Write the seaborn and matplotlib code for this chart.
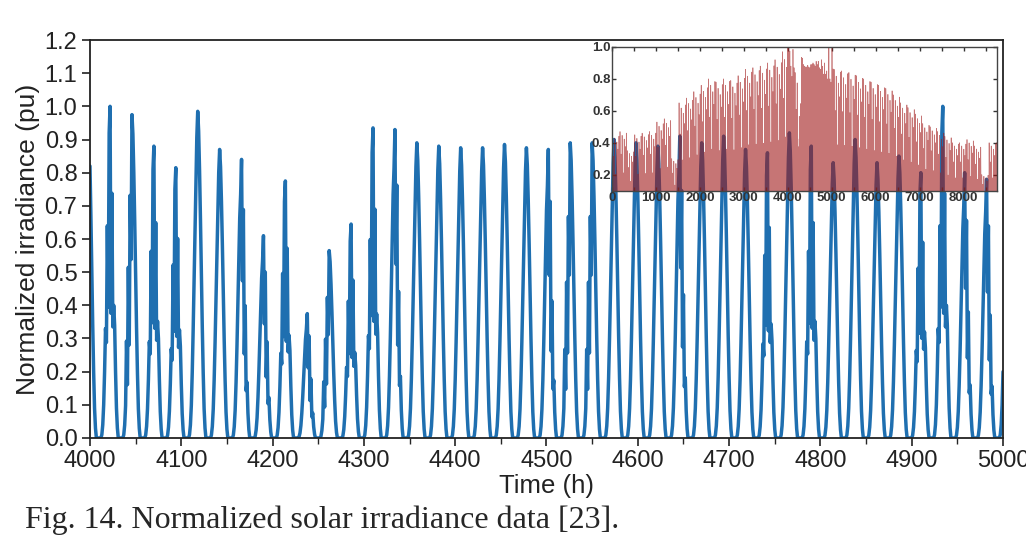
import numpy as np
import pandas as pd
import matplotlib
matplotlib.use('Agg')
import matplotlib.pyplot as plt
import seaborn as sns
from matplotlib.ticker import MultipleLocator

sns.set_theme(style='ticks')
plt.rcParams['font.family'] = ['Liberation Sans', 'DejaVu Sans']

# hourly shape of a clear day (hour 0..23), peak at hour 14
clear_profile = [0, 0, 0, 0, 0, 0.01, 0.04, 0.1, 0.2, 0.33, 0.48, 0.64,
                 0.79, 0.92, 1.0, 0.94, 0.82, 0.67, 0.5, 0.34, 0.2, 0.09, 0.03, 0]

# cloud flicker multipliers (hour 0..23)
cloud_afternoon = [1, 1, 1, 1, 1, 1, 1, 1, 1, 1, 1, 1,
                   1, 0.95, 1, 0.6, 1.0, 0.45, 0.95, 0.5, 1, 1, 1, 1]
cloud_morning = [1, 1, 1, 1, 1, 1, 1, 1, 1.5, 0.5, 1.1, 0.45,
                 0.95, 0.6, 1, 1, 1, 1, 1, 1, 1, 1, 1, 1]
cloud_midday = [1, 1, 1, 1, 1, 1, 1, 1, 1, 1, 0.6, 1.0,
                0.5, 1.0, 1.0, 0.4, 0.9, 0.5, 0.8, 1, 1, 1, 1, 1]

# main window: days starting at hour 3984, one value per day
main_day_peak = [1.0,
                 1.0, 0.975, 0.88, 0.815, 0.985, 0.87, 0.84, 0.61, 0.775, 0.375,
                 0.565, 0.645, 0.935, 0.93, 0.89, 0.88, 0.875, 0.875, 0.885, 0.875,
                 0.87, 0.89, 0.89, 0.90, 0.89, 0.88, 0.91, 0.89, 0.91, 0.87,
                 0.86, 0.92, 0.88, 0.83, 0.90, 0.83, 0.85, 0.80, 1.0, 0.80,
                 0.78, 1.0]
# 0 clear, 1 afternoon, 2 morning, 3 midday
main_day_cloud = [0,
                  3, 2, 3, 3, 0, 0, 1, 1, 3, 1,
                  2, 3, 3, 1, 0, 0, 0, 0, 0, 0,
                  1, 2, 2, 0, 0, 0, 1, 0, 0, 0,
                  3, 0, 3, 0, 0, 0, 0, 3, 3, 1,
                  1, 0]
main_start_hour = 3984

# inset: full year, weekly envelope and a weekly weather cycle
year_week_peak = [0.45, 0.47, 0.35, 0.45, 0.46, 0.47, 0.53, 0.55, 0.30, 0.65,
                  0.68, 0.72, 0.76, 0.80, 0.78, 0.80, 0.79, 0.82, 0.86, 0.87,
                  0.88, 0.90, 0.92, 0.97, 0.95, 0.70, 0.88, 0.88, 0.89, 0.88,
                  0.86, 0.85, 0.84, 0.82, 0.80, 0.78, 0.76, 0.74, 0.70, 0.65,
                  0.62, 0.58, 0.52, 0.50, 0.47, 0.44, 0.40, 0.40, 0.42, 0.38,
                  0.20, 0.40]
week_weather = [1.0, 0.7, 0.95, 0.45, 0.9, 0.8, 0.98]

patterns = [np.ones(24), np.array(cloud_afternoon), np.array(cloud_morning), np.array(cloud_midday)]
profile = np.array(clear_profile)

# build main hourly series
main_vals = []
for peak, c in zip(main_day_peak, main_day_cloud):
    main_vals.append(np.clip(peak * profile * patterns[c], 0, 1))
main_vals = np.concatenate(main_vals)
main_hours = main_start_hour + np.arange(len(main_vals))
main_df = pd.DataFrame({'hour': main_hours, 'value': main_vals})
main_df = main_df[(main_df.hour >= 4000) & (main_df.hour <= 5000)]

# build year series
year_peaks = []
for d in range(365):
    w = min(d // 7, len(year_week_peak) - 1)
    year_peaks.append(year_week_peak[w] * week_weather[d % 7])
first_day = main_start_hour // 24
year_clouds = [0] * 365
for i, (p, c) in enumerate(zip(main_day_peak, main_day_cloud)):
    year_peaks[first_day + i] = p
    year_clouds[first_day + i] = c
year_vals = np.concatenate([pk * profile * patterns[c] for pk, c in zip(year_peaks, year_clouds)])
year_df = pd.DataFrame({'hour': np.arange(len(year_vals)), 'value': year_vals})

fig = plt.figure(figsize=(10.26, 5.4), dpi=100)
ax = fig.add_axes([0.0877, 0.1889, 0.8899, 0.737])

sns.lineplot(data=main_df, x='hour', y='value', ax=ax, color='#1f6fb0',
             linewidth=2.5, estimator=None)
ax.set_xlim(4000, 5000)
ax.set_ylim(0, 1.2)
ax.xaxis.set_major_locator(MultipleLocator(100))
ax.xaxis.set_minor_locator(MultipleLocator(50))
ax.yaxis.set_major_locator(MultipleLocator(0.1))
ax.set_yticklabels([f'{v:.1f}' for v in ax.get_yticks()])
ax.tick_params(axis='both', which='major', direction='out', length=6, width=1.2,
               labelsize=17, colors='#222222', pad=3)
ax.tick_params(axis='x', which='minor', direction='out', length=4, width=1.0)
ax.set_xlabel('Time (h)', fontsize=18.5, labelpad=1, color='#222222')
ax.set_ylabel('Normalized irradiance (pu)', fontsize=19, labelpad=3, color='#222222')
for s in ax.spines.values():
    s.set_linewidth(1.3)
    s.set_color('#222222')

# inset with the whole year
ins = fig.add_axes([0.5965, 0.6469, 0.3752, 0.2661])
ins.patch.set_alpha(0)
sns.lineplot(data=year_df, x='hour', y='value', ax=ins, color='#a01a1a',
             linewidth=0.5, alpha=0.6, estimator=None)
ins.set_xlim(0, 8760)
ins.set_ylim(0.1, 1.0)
ins.xaxis.set_major_locator(MultipleLocator(1000))
ins.xaxis.set_minor_locator(MultipleLocator(500))
ins.yaxis.set_major_locator(MultipleLocator(0.2))
ins.set_xlabel('')
ins.set_ylabel('')
ins.tick_params(axis='both', which='both', labelsize=9.5, pad=1, length=3,
                width=1, top=True, right=True, direction='in', colors='#333333')
for lab in ins.get_xticklabels() + ins.get_yticklabels():
    lab.set_fontweight('bold')
for s in ins.spines.values():
    s.set_linewidth(1.0)
    s.set_color('#444444')

fig.text(0.024, 0.022, 'Fig. 14. Normalized solar irradiance data [23].',
         family=['Liberation Serif', 'DejaVu Serif'], fontsize=23, va='baseline')

fig.savefig('out.png', dpi=100)
